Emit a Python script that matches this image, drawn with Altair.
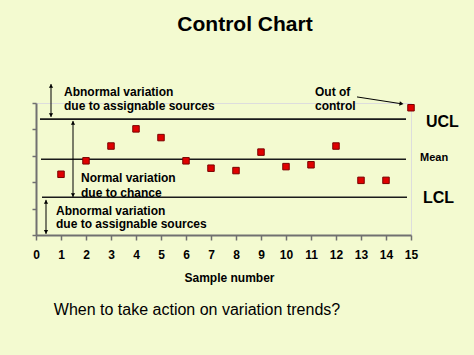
import altair as alt
import pandas as pd

# ---- data ----
samples = list(range(1, 16))
values = [2.30, 2.81, 3.37, 4.02, 3.69, 2.81, 2.53, 2.44, 3.14, 2.59, 2.66, 3.37, 2.07, 2.07, 4.82]

limit_names = ["UCL", "Mean", "LCL"]
limit_values = [4.39, 2.87, 1.43]
limit_x_start = [0.16, 0.2, 0.24]
limit_x_end = [14.8, 14.8, 14.84]

label_texts = ["UCL", "Mean", "LCL"]
label_x = [15.6, 15.36, 15.48]
label_y = [4.28, 2.92, 1.40]
label_sizes = [16, 11, 16]

note_texts = ["Abnormal variation", "due to assignable sources",
              "Normal variation", "due to chance",
              "Abnormal variation", "due to assignable sources",
              "Out of", "control"]
note_x = [1.12, 1.12, 1.8, 1.8, 0.8, 0.8, 11.16, 11.16]
note_y = [5.42, 4.89, 2.16, 1.59, 0.91, 0.42, 5.42, 4.89]

arrow_x = [0.6, 1.48, 0.4]
arrow_top = [5.72, 4.32, 1.33]
arrow_bottom = [4.47, 1.44, 0.04]

pointer_from = (12.84, 5.23)
pointer_to = (14.62, 4.97)

tick_values_x = list(range(0, 16))
tick_values_y = list(range(0, 6))

title_text = "Control Chart"
question_text = "When to take action on variation trends?"

FONT = "Liberation Sans"

x_scale = alt.Scale(domain=[0, 15], nice=False)
y_scale = alt.Scale(domain=[0, 5], nice=False)

x_axis = alt.Axis(values=tick_values_x, labelFontWeight="bold", labelFontSize=12,
                  labelColor="black", tickColor="#707070", domainColor="#707070",
                  domainWidth=2, tickWidth=1.5, tickSize=5, labelPadding=9, grid=False,
                  labelOverlap=False, labelFlush=False, labelBound=False,
                  title="Sample number", titleFontSize=12, titleFontWeight="bold",
                  titleColor="black", titlePadding=12, titleX=193)
y_axis = alt.Axis(values=tick_values_y, labels=False, title=None, grid=False,
                  tickColor="#707070", domainColor="#707070", domainWidth=2,
                  tickWidth=1.5, tickSize=4)


def X(field):
    return alt.X(field, scale=x_scale, axis=x_axis, title="Sample number")


def Y(field):
    return alt.Y(field, scale=y_scale, axis=y_axis, title=None)


pts = pd.DataFrame({"sample": samples, "value": values})
lims = pd.DataFrame({"name": limit_names, "y": limit_values,
                     "x1": limit_x_start, "x2": limit_x_end})
labs = pd.DataFrame({"text": label_texts, "x": label_x, "y": label_y, "fs": label_sizes})
notes = pd.DataFrame({"text": note_texts, "x": note_x, "y": note_y})
arrows = pd.DataFrame({"x": arrow_x, "top": arrow_top, "bottom": arrow_bottom})
heads_up = pd.DataFrame({"x": arrow_x, "y": arrow_top})
heads_down = pd.DataFrame({"x": arrow_x, "y": arrow_bottom})
pointer = pd.DataFrame({"x": [pointer_from[0]], "y": [pointer_from[1]],
                        "x2": [pointer_to[0]], "y2": [pointer_to[1]]})
pointer_head = pd.DataFrame({"x": [pointer_to[0]], "y": [pointer_to[1]]})
big = pd.DataFrame({"text": [title_text, question_text], "x": [8.36, 6.44],
                    "y": [7.95, -2.84]})

points_layer = alt.Chart(pts).mark_square(size=42, fill="#e00000", stroke="#7a0000",
                                          strokeWidth=1, opacity=1).encode(
    x=X("sample:Q"), y=Y("value:Q"),
)

limit_rules = alt.Chart(lims).mark_rule(color="#1a1a1a", strokeWidth=1.6).encode(
    x=X("x1:Q"), x2="x2:Q", y=Y("y:Q"),
)

limit_labels = alt.Chart(labs).mark_text(font=FONT, fontWeight="bold", align="left",
                                         baseline="middle", color="black").encode(
    x=X("x:Q"), y=Y("y:Q"), text="text:N", size=alt.Size("fs:Q", scale=None),
)

note_layer = alt.Chart(notes).mark_text(font=FONT, fontWeight="bold", fontSize=12,
                                        align="left", baseline="middle",
                                        color="black").encode(
    x=X("x:Q"), y=Y("y:Q"), text="text:N",
)

arrow_rules = alt.Chart(arrows).mark_rule(color="black", strokeWidth=1).encode(
    x=X("x:Q"), y=Y("top:Q"), y2="bottom:Q",
)
up_heads = alt.Chart(heads_up).mark_point(shape="triangle-up", filled=True, size=18,
                                          color="black", opacity=1,
                                          yOffset=2).encode(x=X("x:Q"), y=Y("y:Q"))
down_heads = alt.Chart(heads_down).mark_point(shape="triangle-down", filled=True, size=18,
                                              color="black", opacity=1,
                                              yOffset=-2).encode(x=X("x:Q"), y=Y("y:Q"))

pointer_rule = alt.Chart(pointer).mark_rule(color="black", strokeWidth=1).encode(
    x=X("x:Q"), x2="x2:Q", y=Y("y:Q"), y2="y2:Q",
)
pointer_tip = alt.Chart(pointer_head).mark_point(shape="triangle-up", filled=True,
                                                 size=22, color="black", opacity=1,
                                                 angle=99).encode(x=X("x:Q"), y=Y("y:Q"))

title_layer = alt.Chart(big.iloc[[0]]).mark_text(font=FONT, fontWeight="bold",
                                                 fontSize=21, align="center",
                                                 baseline="middle", color="black").encode(
    x=X("x:Q"), y=Y("y:Q"), text="text:N",
)
question_layer = alt.Chart(big.iloc[[1]]).mark_text(font=FONT, fontWeight="normal",
                                                    fontSize=16, align="center",
                                                    baseline="middle",
                                                    color="black").encode(
    x=X("x:Q"), y=Y("y:Q"), text="text:N",
)

chart = alt.layer(
    limit_rules, arrow_rules, up_heads, down_heads, pointer_rule, pointer_tip,
    points_layer, limit_labels, note_layer, title_layer, question_layer,
).properties(
    width=375, height=132,
    autosize=alt.AutoSizeParams(type="none"),
    padding={"left": 36, "top": 103, "right": 63, "bottom": 120},
    background="#f3fad0",
).configure_view(stroke=None).configure_axis(labelOverlap=False).configure(font=FONT)

chart.save("out.html", embed_options={"renderer": "svg", "actions": False})
